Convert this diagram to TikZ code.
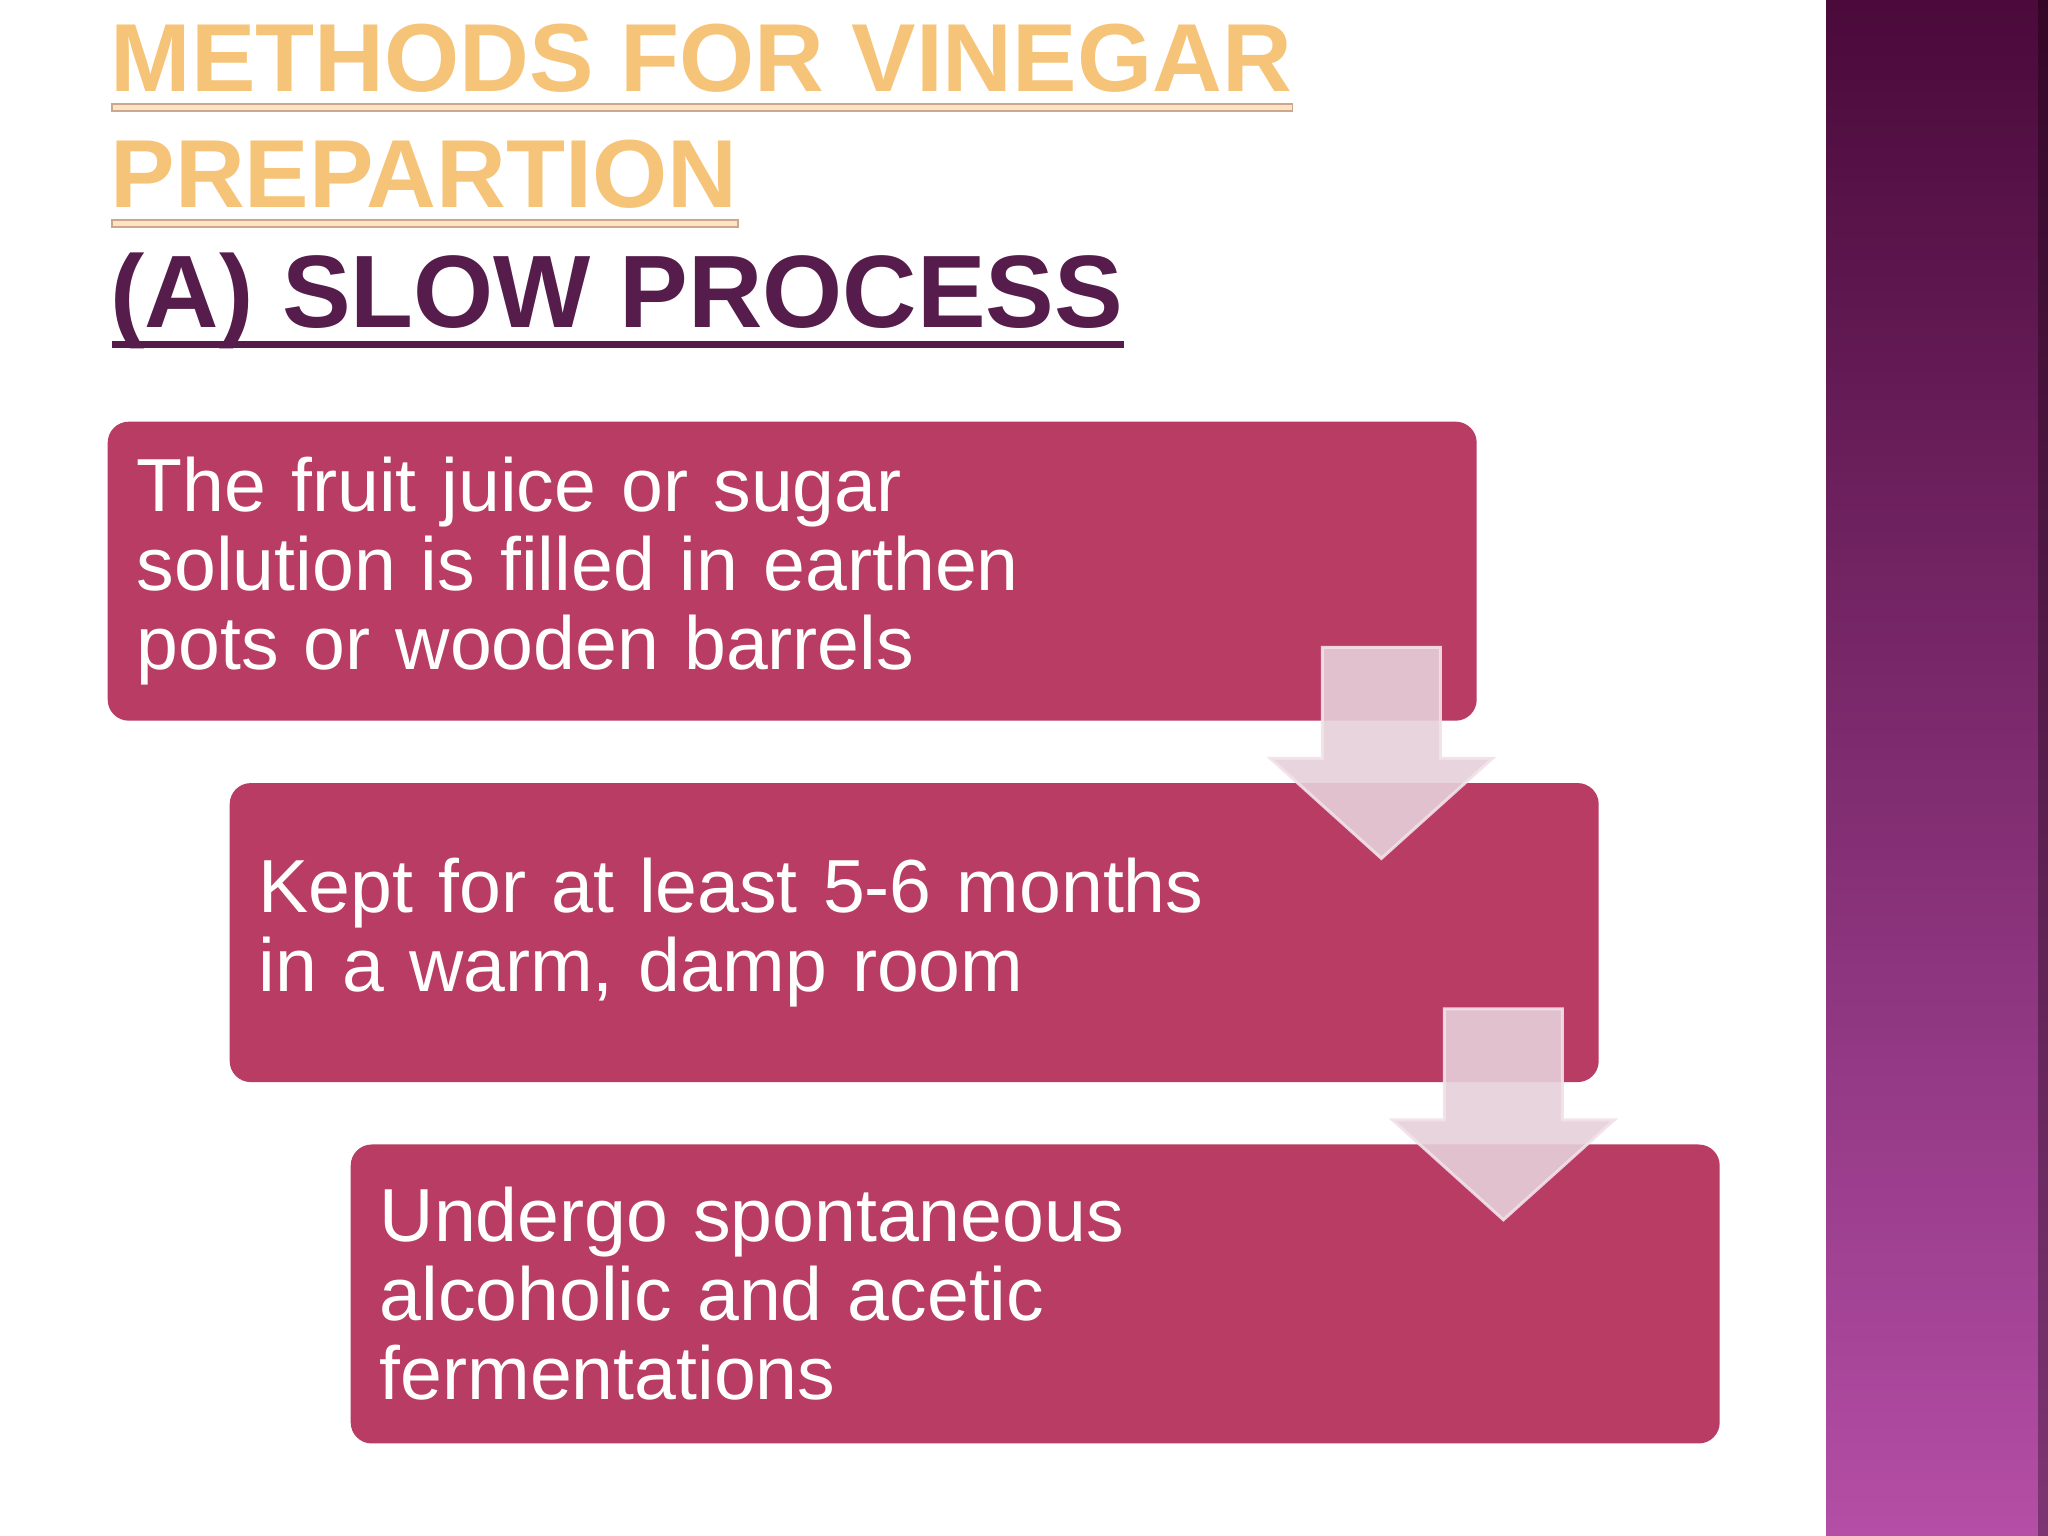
\documentclass[tikz,border=0pt]{standalone}
\usepackage{fontspec}
\setmainfont{Liberation Sans}
\usepackage{tikz}
\usetikzlibrary{calc}
\usetikzlibrary{positioning}

\definecolor{boxred}{RGB}{184,60,100}
\definecolor{titleorange}{RGB}{246,196,120}
\definecolor{barcream}{RGB}{251,228,196}
\definecolor{baredge}{RGB}{206,166,140}
\definecolor{titlepurple}{RGB}{86,28,76}
\definecolor{arrowpink}{RGB}{230,208,217}
\definecolor{arrowedge}{RGB}{242,226,233}
\definecolor{bandtop}{RGB}{74,10,58}
\definecolor{bandmid}{RGB}{128,46,116}
\definecolor{bandbot}{RGB}{180,78,166}

\begin{document}
\begin{tikzpicture}[
  stepbox/.style = {draw=none,fill=boxred,rounded corners=0.21cm,
    minimum width=13.69cm,minimum height=2.99cm,inner xsep=0.29cm,
    text width=13.11cm,align=left,text=white,
    font=\fontsize{21.4}{22.5}\selectfont},
  headline/.style = {inner sep=0pt,anchor=base west,
    font=\fontsize{27.5}{30}\selectfont\bfseries},
  flowarrow/.style = {fill=arrowpink,draw=arrowedge,line width=0.03cm,
    opacity=0.9,line join=miter}
  ]
	\useasboundingbox (0,0) rectangle (20.48,15.36);
	\fill[white] (0,0) rectangle (20.48,15.36);

	% side band
	\shade[top color=bandtop,middle color=bandmid,bottom color=bandbot] (18.26,0) rectangle (20.48,15.36);
	\fill[black,opacity=0.3] (20.38,0) rectangle (20.48,15.36);

	% headings
	\node[headline,text=titleorange] (title1) at (1.10,14.44) {METHODS FOR VINEGAR};
	\node[headline,text=titleorange] (title2) at (1.10,13.28) {PREPARTION};
	\node[headline,text=titlepurple,font=\fontsize{29.3}{30}\selectfont\bfseries] (title3) at (1.10,12.08) {(A) SLOW PROCESS};

	\filldraw[fill=barcream,draw=baredge,line width=0.4pt] ($(title1.base west)+(0.02,-0.12)$) rectangle ($(title1.base east)+(0,-0.19)$);
	\filldraw[fill=barcream,draw=baredge,line width=0.4pt] ($(title2.base west)+(0.02,-0.12)$) rectangle ($(title2.base east)+(0,-0.19)$);
	\fill[titlepurple] ($(title3.base west)+(0.02,-0.13)$) rectangle ($(title3.base east)+(0,-0.20)$);

	% steps
	\node[stepbox,anchor=north west] (box1) at (1.07,11.15)
		{The fruit juice or sugar\\solution is filled in earthen\\pots or wooden barrels};
	\node[stepbox,anchor=north west] (box2) at ($(box1.south west)+(1.22,-0.61)$)
		{Kept for at least 5-6 months\\in a warm, damp room};
	\node[stepbox,anchor=north west] (box3) at ($(box2.south west)+(1.21,-0.61)$)
		{Undergo spontaneous\\alcoholic and acetic\\fermentations};

	% arrows between the steps
	\filldraw[flowarrow] ($(box1.south east)+(-1.55,0.74)$) -- ++(1.18,0) -- ++(0,-1.11)
		-- ++(0.52,0) -- ++(-1.11,-1.0) -- ++(-1.11,1.0) -- ++(0.52,0) -- cycle;
	\filldraw[flowarrow] ($(box2.south east)+(-1.55,0.74)$) -- ++(1.18,0) -- ++(0,-1.11)
		-- ++(0.52,0) -- ++(-1.11,-1.0) -- ++(-1.11,1.0) -- ++(0.52,0) -- cycle;

\end{tikzpicture}
\end{document}
